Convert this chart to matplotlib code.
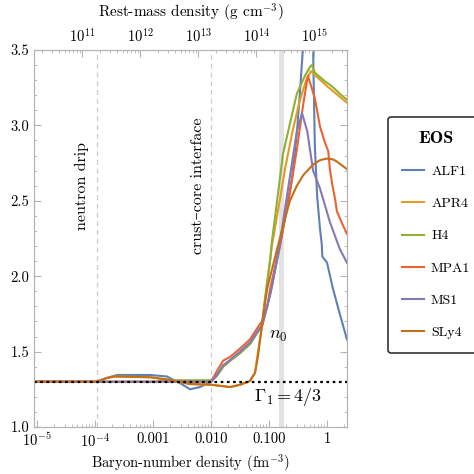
import matplotlib as mpl
mpl.use('Agg')
import matplotlib.pyplot as plt
from matplotlib.font_manager import FontProperties
from matplotlib.ticker import FixedLocator, FixedFormatter, LogLocator, MultipleLocator, NullFormatter
import numpy as np

plt.rcParams['font.family'] = ['cmr10', 'DejaVu Serif']
plt.rcParams['mathtext.fontset'] = 'cm'
plt.rcParams['axes.unicode_minus'] = False

# adiabatic index Gamma_1 vs baryon-number density n (fm^-3)
alf1_n = [8.9e-6, 1.07e-4, 1.6e-4, 2.4e-4, 8.9e-4, 1.74e-3, 2.95e-3, 4.37e-3, 6.46e-3, 0.01,
          0.0126, 0.0162, 0.0214, 0.0316, 0.0468, 0.0692, 0.0759, 0.105, 0.155, 0.251, 0.302,
          0.339, 0.389, 0.46, 0.575, 0.617, 0.676, 0.759, 0.813, 0.83, 1.0, 1.26, 1.66, 2.21]
alf1_g = [1.30, 1.30, 1.325, 1.345, 1.345, 1.335, 1.29, 1.25, 1.265, 1.30,
          1.34, 1.40, 1.44, 1.49, 1.55, 1.65, 1.67, 1.88, 2.20, 2.66, 2.95,
          3.20, 3.54, 4.30, 3.51, 2.86, 2.53, 2.31, 2.21, 2.13, 2.09, 1.92, 1.75, 1.58]

apr4_n = [8.9e-6, 1.07e-4, 1.6e-4, 2.2e-4, 8.9e-4, 1.74e-3, 4.37e-3, 0.01, 0.0214, 0.0316,
          0.0468, 0.0575, 0.0646, 0.0759, 0.0933, 0.112, 0.145, 0.191, 0.251, 0.331, 0.437,
          0.525, 0.631, 1.0, 2.21]
apr4_g = [1.30, 1.30, 1.325, 1.335, 1.33, 1.315, 1.285, 1.28, 1.265, 1.28,
          1.305, 1.36, 1.50, 1.67, 1.96, 2.20, 2.45, 2.72, 2.95, 3.15, 3.30,
          3.36, 3.33, 3.26, 3.15]

h4_n = [8.9e-6, 1e-4, 1e-3, 2e-3, 0.01, 0.0126, 0.0162, 0.0214, 0.0316, 0.0468, 0.0692,
        0.0759, 0.0851, 0.105, 0.112, 0.126, 0.174, 0.229, 0.302, 0.417, 0.513, 0.55,
        0.617, 0.759, 0.933, 1.12, 1.38, 1.66, 2.21]
h4_g = [1.30, 1.30, 1.30, 1.31, 1.31, 1.34, 1.40, 1.44, 1.49, 1.55, 1.65,
        1.68, 1.85, 2.11, 2.23, 2.38, 2.81, 3.01, 3.21, 3.33, 3.39, 3.40,
        3.35, 3.32, 3.29, 3.27, 3.24, 3.21, 3.17]

mpa1_n = [8.9e-6, 1e-4, 1e-3, 0.01, 0.0126, 0.0162, 0.0214, 0.0316, 0.0468, 0.0692, 0.0759,
          0.0933, 0.105, 0.155, 0.229, 0.302, 0.389, 0.468, 0.617, 0.759, 0.933, 1.05,
          1.12, 1.23, 1.38, 1.48, 1.82, 2.21]
mpa1_g = [1.30, 1.30, 1.30, 1.30, 1.37, 1.44, 1.465, 1.52, 1.58, 1.68, 1.70,
          1.80, 1.92, 2.21, 2.55, 2.84, 3.14, 3.33, 3.18, 2.99, 2.88, 2.83,
          2.71, 2.61, 2.51, 2.43, 2.35, 2.28]

ms1_n = [8.9e-6, 1e-4, 1e-3, 0.01, 0.0126, 0.0162, 0.0214, 0.0316, 0.0468, 0.0692, 0.0759,
         0.0933, 0.112, 0.155, 0.229, 0.302, 0.372, 0.457, 0.575, 0.759, 1.12, 1.66, 2.21]
ms1_g = [1.30, 1.30, 1.30, 1.30, 1.345, 1.41, 1.445, 1.50, 1.56, 1.655, 1.67,
         1.80, 1.93, 2.23, 2.66, 2.96, 3.08, 2.96, 2.70, 2.58, 2.36, 2.18, 2.09]

sly4_n = [8.9e-6, 1.07e-4, 1.6e-4, 2.2e-4, 8.9e-4, 1.74e-3, 4.37e-3, 0.01, 0.0214, 0.0316,
          0.0468, 0.0575, 0.0646, 0.0794, 0.0933, 0.138, 0.174, 0.229, 0.302, 0.389, 0.575,
          0.76, 1.0, 1.26, 1.48, 2.21]
sly4_g = [1.30, 1.30, 1.325, 1.335, 1.33, 1.315, 1.285, 1.28, 1.265, 1.28,
          1.305, 1.36, 1.47, 1.74, 1.92, 2.18, 2.33, 2.50, 2.60, 2.67, 2.74,
          2.77, 2.78, 2.775, 2.76, 2.71]

eos_names = ['ALF1', 'APR4', 'H4', 'MPA1', 'MS1', 'SLy4']
eos_n = [alf1_n, apr4_n, h4_n, mpa1_n, ms1_n, sly4_n]
eos_g = [alf1_g, apr4_g, h4_g, mpa1_g, ms1_g, sly4_g]
colors = ['#5E81B5', '#E19C24', '#8FB032', '#EB6235', '#8778B3', '#C56E1A']

n_drip = 1.1e-4
n_crust_core = 0.01
n0_band = (0.15, 0.18)
gamma_line = 1.30
rho_per_n = 1.66e15  # g cm^-3 per fm^-3

xlim = (8.9e-6, 2.21)
frame_col = '#b4b4b4'

fig = plt.figure(figsize=(4.74, 4.74), dpi=100)
ax = fig.add_axes([34/474, 47/474, 313/474, 377/474])

ax.axvspan(n0_band[0], n0_band[1], color='#e2e2e2', lw=0, zorder=0)
ax.axvline(n_drip, color='#cccccc', ls=(0, (4, 3)), lw=0.9, zorder=0.5)
ax.axvline(n_crust_core, color='#cccccc', ls=(0, (4, 3)), lw=0.9, zorder=0.5)

for name, nn, gg, c in zip(eos_names, eos_n, eos_g, colors):
    ax.plot(nn, gg, color=c, lw=1.5, label=name)

ax.axhline(gamma_line, color='black', ls=(0, (1.2, 1.6)), lw=1.6, zorder=5)

ax.set_xscale('log')
ax.set_xlim(*xlim)
ax.set_ylim(1.0, 3.5)

ax.xaxis.set_major_locator(FixedLocator([1e-5, 1e-4, 1e-3, 1e-2, 1e-1, 1]))
ax.xaxis.set_major_formatter(FixedFormatter([r'$10^{-5}$', r'$10^{-4}$', '0.001', '0.010', '0.100', '1']))
ax.xaxis.set_minor_locator(LogLocator(base=10, subs=np.arange(2, 10), numticks=20))
ax.xaxis.set_minor_formatter(NullFormatter())
ax.yaxis.set_major_locator(MultipleLocator(0.5))
ax.yaxis.set_minor_locator(MultipleLocator(0.1))
ax.yaxis.set_major_formatter(mpl.ticker.FormatStrFormatter('%.1f'))

ax.tick_params(which='both', direction='in', color=frame_col, labelsize=10.5, top=False, right=True)
ax.tick_params(which='major', length=5)
ax.tick_params(which='minor', length=2.5)
for s in ax.spines.values():
    s.set_color(frame_col)

ax.set_xlabel(r'Baryon-number density (fm$^{-3}$)', fontsize=10.5, labelpad=1.5)

# top axis in rest-mass density
ax2 = ax.twiny()
ax2.set_xscale('log')
ax2.set_xlim(xlim[0] * rho_per_n, xlim[1] * rho_per_n)
ax2.xaxis.set_major_locator(FixedLocator([1e11, 1e12, 1e13, 1e14, 1e15]))
ax2.xaxis.set_major_formatter(FixedFormatter([r'$10^{11}$', r'$10^{12}$', r'$10^{13}$', r'$10^{14}$', r'$10^{15}$']))
ax2.xaxis.set_minor_locator(LogLocator(base=10, subs=np.arange(2, 10), numticks=20))
ax2.xaxis.set_minor_formatter(NullFormatter())
ax2.tick_params(which='both', direction='in', color=frame_col, labelsize=10.5)
ax2.tick_params(which='major', length=5)
ax2.tick_params(which='minor', length=2.5)
for s in ax2.spines.values():
    s.set_color(frame_col)
ax2.set_xlabel(r'Rest-mass density (g cm$^{-3}$)', fontsize=11, labelpad=7)

ax.text(6e-5, 2.60, 'neutron drip', rotation=90, ha='center', va='center', fontsize=11.5)
ax.text(6e-3, 2.60, 'crust\u2013core interface', rotation=90, ha='center', va='center', fontsize=11.5)
ax.text(0.145, 1.60, r'$n_0$', ha='center', va='center', fontsize=13)
ax.text(0.21, 1.20, r'$\Gamma_1 = 4/3$', ha='center', va='center', fontsize=13)

leg = fig.legend(loc='upper left', bbox_to_anchor=(388/474, 1 - 117/474), borderaxespad=0,
                 fontsize=10, title='EOS', title_fontproperties=FontProperties(family='cmb10', size=13),
                 handlelength=1.6, handletextpad=0.5, labelspacing=1.4, borderpad=1.0,
                 fancybox=True, framealpha=1)
leg.get_frame().set_edgecolor('#222222')
leg.get_frame().set_linewidth(1.1)

fig.savefig('out.png', dpi=100)
